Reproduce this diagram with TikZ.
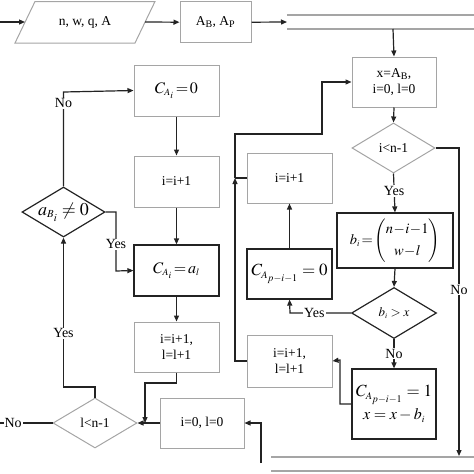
\documentclass[tikz,border=0pt]{standalone}
\usepackage{amsmath}
\usepackage{mathptmx}
\usepackage[no-math]{fontspec}
\setmainfont{Liberation Serif}
\usetikzlibrary{arrows.meta,shapes.geometric}
\definecolor{lg}{RGB}{165,165,165}
\definecolor{dk}{RGB}{35,35,35}
\newcommand{\ssub}[1]{{\scriptscriptstyle #1}}
\begin{document}
\begin{tikzpicture}[x=1pt,y=-1pt,
  txt/.style={font=\fontsize{13.5}{16}\selectfont},
  gbox/.style={rectangle,draw=lg,line width=1pt,align=center,inner sep=0pt,txt},
  kbox/.style={rectangle,draw=dk,line width=1.2pt,align=center,inner sep=0pt,txt},
  gdia/.style={diamond,aspect=1.66,draw=lg,line width=1pt,inner sep=0pt,txt},
  kdia/.style={diamond,aspect=1.66,draw=dk,line width=1.2pt,inner sep=0pt,txt},
  con/.style={draw=dk,line width=1.2pt},
  arr/.style={con,-{Triangle[length=6pt,width=5pt]}},
  lab/.style={fill=white,inner sep=1pt,font=\fontsize{14}{16}\selectfont},
  dbl/.style={draw=lg,line width=1.2pt}]
\useasboundingbox (0,0) rectangle (474,474);
% input parallelogram
\draw[draw=lg,line width=1pt] (35,1.5)--(155,1.5)--(135,43)--(15,43)--cycle;
\node[txt] (par) at (85,22) {n, w, q, A};
\coordinate (parW) at (25,22);
\coordinate (parE) at (145,22);
\coordinate (in0) at (0,22);
\node[gbox,minimum width=71pt,minimum height=41.5pt] (ab) at (215.5,22.2) {A\textsubscript{B}, A\textsubscript{P}};
% top double line
\draw[dbl] (287,15) -- (474,15);
\draw[dbl] (287,29) -- (474,29);
\coordinate (topS) at (287,22);
\coordinate (topO) at (393,29);
% bottom double line
\draw[dbl] (271,457) -- (474,457);
\draw[dbl] (271,471) -- (474,471);
\coordinate (botO) at (459,456);
\coordinate (botI) at (261,463);
% right column
\node[gbox,minimum width=84pt,minimum height=50pt] (xa) at (394,82) {x=A\textsubscript{B},\\ i=0, l=0};
\node[gdia,minimum width=83pt,minimum height=50pt] (d1) at (393.5,148) {i<n-1};
\node[kbox,minimum width=116pt,minimum height=55pt] (bb) at (395,240.5) {\fontsize{14.5}{17}\selectfont\renewcommand{\arraystretch}{1.3}$b_{\ssub{i}}\!=\!\begin{pmatrix} n\!-\!i\!-\!1\\ w\!-\!l\end{pmatrix}$};
\node[kdia,minimum width=85pt,minimum height=51pt] (d2) at (394,313) {\fontsize{13}{16}\selectfont$b_{\ssub{i}}>x$};
\node[kbox,minimum width=84pt,minimum height=70pt] (c1) at (394,404) {\fontsize{17}{22}\selectfont$C_{\ssub{A_{p-i-1}}}=1$\\[3pt] \fontsize{16}{22}\selectfont$x=x-b_{\ssub{i}}$};
% middle column
\node[gbox,minimum width=85pt,minimum height=50pt] (i1r) at (289.5,178) {i=i+1};
\node[kbox,minimum width=85pt,minimum height=50pt] (c0) at (289.5,274) {\fontsize{17}{22}\selectfont$C_{\ssub{A_{p-i-1}}}=0$};
\node[gbox,minimum width=85pt,minimum height=52pt] (i2) at (289.5,361) {i=i+1,\\ l=l+1};
\node[gbox,minimum width=84pt,minimum height=50pt] (i00) at (202,423) {i=0, l=0};
% left column
\node[gbox,minimum width=85pt,minimum height=51pt] (c0l) at (176.5,90.5) {\fontsize{16}{20}\selectfont$C_{\ssub{A_i}}\!=\!0$};
\node[gbox,minimum width=85pt,minimum height=51pt] (i1l) at (176.5,181.5) {i=i+1};
\node[kbox,minimum width=85pt,minimum height=51pt] (cal) at (176.5,270.5) {\fontsize{16}{20}\selectfont$C_{\ssub{A_i}}\!=\!a_{\ssub{l}}$};
\node[gbox,minimum width=85pt,minimum height=50pt] (i3) at (176.5,347) {i=i+1,\\ l=l+1};
\node[kdia,minimum width=83pt,minimum height=50pt] (d4) at (63.5,212) {\fontsize{18}{22}\selectfont$a_{\ssub{B_i}}\neq 0$};
\node[gdia,minimum width=84pt,minimum height=50pt] (d3) at (95,423) {l<n-1};
\coordinate (out0) at (0,423);
% connectors top
\draw[arr] (in0) -- (parW);
\draw[arr] (parE) -- (ab.west);
\draw[arr] (ab.east) -- (topS);
\draw[arr] (topO) -- (xa.north);
\draw[arr] (xa.south) -- (d1.north);
\draw[arr] (d1.south) -- node[lab,pos=0.45] {Yes} (bb.north);
\draw[arr] (d1.east) -| node[lab,pos=0.73] {No} (botO);
\draw[arr] (bb.south) -- (d2.north);
\draw[arr] (d2.west) -- node[lab,pos=0.6] {Yes} (290,313) -- (c0.south);
\draw[arr] (d2.south) -- node[lab,pos=0.5] {No} (c1.north);
\draw[arr] (c1.west) -- (340,404) -- (340,360) -- (i2.east);
\draw[arr] (c0.north) -- (i1r.south);
\draw[arr] (i2.west) -- (235,361) -- (235,178);
\draw[con] (i1r.west) -- (235,178);
\draw[arr] (235,178) -- (235,134) -- (322,134) -- (322,82) -- (xa.west);
\draw[arr] (botI) -- (261,423) -- (i00.east);
\draw[arr] (i00.west) -- (d3.east);
\draw[arr] (i3.south) -- (176.5,383) -- (145,383) -- (145,423);
\draw[arr] (d3.north) -- (95,387) -- (63.5,387) -- node[lab,pos=0.36] {Yes} (d4.south);
\draw[con] (d3.west) -- node[lab,pos=0.75] {No} (out0);
\draw[arr] (d4.north) -- node[lab,pos=0.88] {No} (63.5,92) -- (c0l.west);
\draw[arr] (d4.east) -- (116,212) -- node[lab,pos=0.55] {Yes} (116,271) -- (cal.west);
\draw[arr] (c0l.south) -- (i1l.north);
\draw[arr] (i1l.south) -- (cal.north);
\draw[arr] (cal.south) -- (i3.north);
\end{tikzpicture}
\end{document}
